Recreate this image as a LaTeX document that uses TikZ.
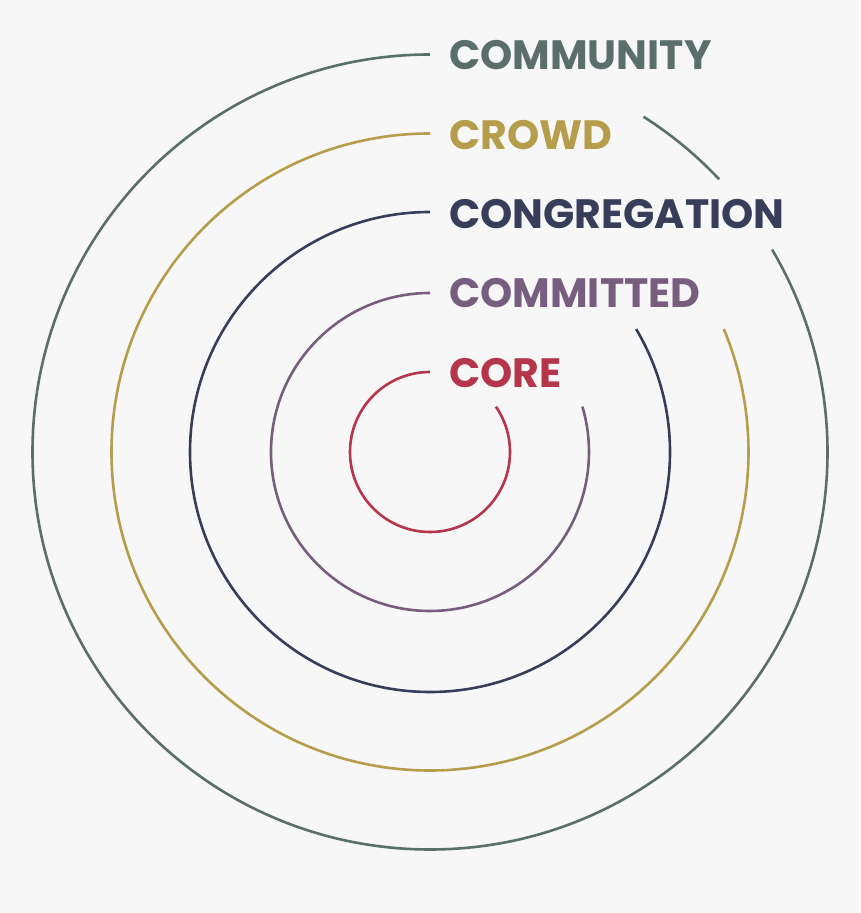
\documentclass[tikz,border=0pt]{standalone}
\usepackage{fontspec}
\newfontfamily\labfont{Poppins}
\definecolor{bg}{HTML}{F7F7F7}
\definecolor{ccommunity}{HTML}{5A6E6B}
\definecolor{ccrowd}{HTML}{B59D4C}
\definecolor{ccong}{HTML}{383D5A}
\definecolor{ccommit}{HTML}{775D7E}
\definecolor{ccore}{HTML}{B5354B}
\tikzset{
  ring/.style={line width=2.6pt},
  lab/.style={anchor=west,inner sep=0pt,font=\labfont\bfseries\fontsize{41}{41}\selectfont}
}
\begin{document}
\begin{tikzpicture}[x=1pt,y=1pt]
\fill[bg] (0,0) rectangle (860,913);
\useasboundingbox (0,0) rectangle (860,913);
\coordinate (c) at (430,461);
% rings
\draw[ring,ccommunity] ([shift={(90:397.5)}]c) arc[start angle=90,end angle=390.6,radius=397.5];
\draw[ring,ccommunity] ([shift={(57.5:397.5)}]c) arc[start angle=57.5,end angle=43.3,radius=397.5];
\draw[ring,ccrowd] ([shift={(90:318.5)}]c) arc[start angle=90,end angle=382.7,radius=318.5];
\draw[ring,ccong] ([shift={(90:240)}]c) arc[start angle=90,end angle=390.8,radius=240];
\draw[ring,ccommit] ([shift={(90:159)}]c) arc[start angle=90,end angle=376.6,radius=159];
\draw[ring,ccore] ([shift={(90:80)}]c) arc[start angle=90,end angle=394.5,radius=80];
% labels
\node[lab,text=ccommunity] (community) at (449,857.5) {COMMUNITY};
\node[lab,text=ccrowd] (crowd) at (449,777.5) {CROWD};
\node[lab,text=ccong] (cong) at (449,699) {CONGREGATION};
\node[lab,text=ccommit] (commit) at (449,619.5) {COMMITTED};
\node[lab,text=ccore] (core) at (449,539.5) {CORE};
\end{tikzpicture}
\end{document}
